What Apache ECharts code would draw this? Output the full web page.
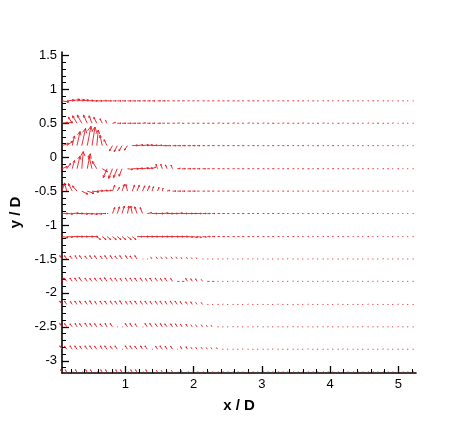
<!DOCTYPE html>
<html>
<head>
<meta charset="utf-8">
<script src="https://cdn.jsdelivr.net/npm/echarts@6/dist/echarts.min.js"></script>
<style>
  html, body { margin: 0; padding: 0; background: #fff; }
  #chart { width: 474px; height: 421px; }
</style>
</head>
<body>
<div id="chart"></div>
<script>
// grid columns (x / D) of the vector field
var xCols = [0.07,0.14,0.22,0.29,0.36,0.44,0.51,0.58,0.66,0.73,
  0.81,0.88,0.95,1.03,1.1,1.17,1.25,1.32,1.39,1.47,
  1.54,1.61,1.69,1.76,1.83,1.91,1.98,2.05,2.13,2.2,
  2.27,2.35,2.42,2.49,2.57,2.64,2.71,2.79,2.86,2.93,
  3.01,3.08,3.15,3.23,3.3,3.37,3.45,3.52,3.59,3.67,
  3.74,3.81,3.89,3.96,4.03,4.11,4.18,4.25,4.33,4.4,
  4.47,4.55,4.62,4.69,4.77,4.84,4.91,4.99,5.06,5.13,5.21];

// rows (y / D)
var rowY = [0.83, 0.5, 0.17, -0.17, -0.5, -0.83, -1.17, -1.5, -1.83, -2.17, -2.5, -2.83, -3.17];

// velocity components, one array per row
var u1 = [.9,1,1,1,.9,.8,.7,.7,.6,.6, .5,.5,.5,.5,.45,.45,.4,.4,.4,.4, .4,.35,.35,.35,.35,.3,.3,.3,.3,.3,
  .3,.3,.3,.3,.3,.3,.25,.3,.3,.25, .25,.25,.25,.25,.25,.25,.25,.25,.25,.2, .25,.2,.2,.25,.2,.2,.2,.25,.2,.2, .2,.2,.25,.2,.2,.2,.15,.2,.2,.15,.15];
var v1 = [-.15,.1,.2,.15,.1,.05,0,0,.02,0, 0,0,0,0,0,0,0,0,0,0, 0,0,0,0,0,0,0,0,0,0,
  0,0,0,0,0,0,0,0,0,0, 0,0,0,0,0,0,0,0,0,0, 0,0,0,0,0,0,0,0,0,0, 0,0,0,0,0,0,0,0,0,0,0];

var u2 = [.8,.8,-.5,-.6,-.6,-.5,-.4,-.4,-.3,-.2, .4,.5,.5,.5,.45,.45,.4,.4,.4,.4, .35,.35,.35,.35,.3,.3,.3,.3,.3,.3,
  .3,.3,.25,.3,.3,.25,.25,.3,.25,.25, .25,.25,.3,.25,.25,.3,.25,.25,.25,.25, .2,.25,.25,.2,.2,.25,.2,.2,.25,.2, .2,.2,.2,.25,.2,.2,.2,.15,.2,.15,.15];
var v2 = [.1,.15,.8,1,1.1,1.1,1,.8,.6,.4, .1,0,0,0,0,0,.05,0,0,0, 0,0,0,.05,0,0,0,0,0,0,
  0,.05,0,0,.05,0,0,.05,0,0, .05,0,0,0,.05,0,0,0,.05,0, 0,0,.05,0,0,0,.05,0,0,0, 0,.05,0,0,0,0,.05,0,0,0,0];

var u3 = [.9,.8,.3,.4,.5,.5,.4,.2,-.3,-.4, -.4,-.4,-.4,-.4,.7,.8,.8,.7,.7,.6, .6,.5,.5,.45,.45,.4,.4,.4,.35,.35,
  .35,.3,.3,.3,.3,.3,.3,.25,.3,.25, .25,.25,.25,.25,.25,.25,.2,.25,.25,.2, .2,.25,.2,.2,.25,.2,.2,.2,.2,.2, .2,.2,.2,.2,.15,.2,.2,.15,.2,.15,.15];
var v3 = [.3,.6,1.3,1.9,2.3,2.6,2.5,2.1,1.4,.8, -.7,-.8,-.7,-.6,.05,.1,.1,.1,.05,.05, 0,0,0,0,0,0,0,0,0,0,
  0,0,0,0,0,0,0,0,0,0, 0,0,0,0,0,0,0,0,0,0, 0,0,0,0,0,0,0,0,0,0, 0,0,0,0,0,0,0,0,0,0,0];

var u4 = [.7,.5,.3,.4,.2,.4,-.4,-.6,.7,-.5, -.5,-.5,-.4,.7,.8,.8,.8,.7,.5,-.2, -.2,-.2,-.2,.4,.45,.45,.4,.4,.4,.35,
  .35,.35,.3,.3,.3,.3,.3,.3,.25,.3, .25,.25,.3,.25,.25,.25,.25,.2,.25,.25, .2,.25,.2,.2,.25,.2,.2,.2,.25,.2, .2,.2,.2,.15,.2,.2,.15,.2,.15,.15,.15];
var v4 = [.3,.7,1.1,1.7,2.3,2,1.7,1,-.4,-1.2, -1.3,-1.2,-1,-.1,0,.05,.1,.1,.2,.6, .6,.5,.5,.05,0,0,0,0,0,0,
  0,0,0,0,0,0,0,0,0,0, 0,0,0,0,0,0,0,0,0,0, 0,0,0,0,0,0,0,0,0,0, 0,0,0,0,0,0,0,0,0,0,0];

var u5 = [.3,-.3,-.5,-.6,.8,.9,.9,.8,.7,.6, .3,.3,.3,-.2,.3,.3,.3,.3,.2,.2, .1,.4,.45,.45,.4,.4,.4,.35,.35,.35,
  .3,.3,.3,.3,.3,.25,.3,.25,.25,.25, .25,.25,.25,.2,.25,.25,.2,.25,.2,.2, .2,.2,.25,.2,.2,.2,.2,.2,.2,.2, .2,.15,.2,.2,.15,.2,.15,.15,.15,.15,.15];
var v5 = [1,1.1,1,.7,-.4,-.3,-.1,.05,.1,.1, .8,.5,.9,.9,.8,.8,.7,.7,.6,.5, .4,.1,0,0,0,0,0,0,0,0,
  0,0,0,0,0,0,0,0,0,0, 0,0,0,0,0,0,0,0,0,0, 0,0,0,0,0,0,0,0,0,0, 0,0,0,0,0,0,0,0,0,0,0];

var u6 = [.8,.8,.8,.8,.8,.7,.7,.7,.5,.15, .3,.3,.3,.2,-.2,-.3,-.3,.6,.7,.8, .8,.8,.7,.7,.7,.7,.6,.6,.5,.4,
  .4,.35,.35,.3,.3,.3,.3,.3,.25,.25, .25,.25,.25,.25,.25,.2,.25,.2,.2,.25, .2,.2,.2,.2,.2,.2,.2,.2,.2,.15, .2,.15,.2,.15,.15,.2,.15,.15,.15,.15,.15];
var v6 = [0,-.05,.05,0,-.05,-.05,-.1,-.05,0,0, .8,.9,1,1,1,.9,.8,.1,0,0, .05,0,0,.05,0,0,0,0,0,0,
  0,0,0,0,0,0,0,0,0,0, 0,0,0,0,0,0,0,0,0,0, 0,0,0,0,0,0,0,0,0,0, 0,0,0,0,0,0,0,0,0,0,0];

var u7 = [.8,.8,.8,.8,.8,.8,.8,.5,.5,.5, .5,.5,.5,.5,.5,.7,.8,.8,.8,.8, .8,.8,.8,.8,.8,.7,.7,.6,.5,.4,
  .4,.35,.35,.3,.3,.3,.3,.3,.25,.25, .25,.25,.25,.25,.2,.25,.25,.2,.2,.2, .2,.2,.2,.2,.2,.2,.2,.2,.15,.2, .15,.2,.15,.15,.15,.15,.15,.15,.15,.15,.15];
var v7 = [-.15,-.05,0,0,0,0,0,-.4,-.4,-.4, -.4,-.4,-.4,-.4,-.4,0,0,0,0,0, 0,0,0,0,0,-.05,-.1,-.1,-.05,0,
  0,0,0,0,0,0,0,0,0,0, 0,0,0,0,0,0,0,0,0,0, 0,0,0,0,0,0,0,0,0,0, 0,0,0,0,0,0,0,0,0,0,0];

var u8 = [-.3,-.3,-.3,-.25,-.3,-.3,-.3,-.3,-.25,-.3, -.3,-.3,-.3,-.25,-.3,-.3,.1,.1,-.2,-.2, -.2,-.2,-.2,-.2,-.15,-.15,-.15,-.15,.15,.15,
  .15,.15,.15,.15,.15,.15,.15,.15,.15,.15, .15,.15,.15,.15,.15,.15,.15,.15,.15,.15, .15,.15,.15,.15,.15,.15,.15,.15,.15,.15, .15,.15,.15,.15,.15,.15,.15,.15,.15,.15,.15];
var v8 = [.45,.45,.4,.45,.45,.4,.45,.45,.4,.45, .45,.4,.45,.45,.4,.45,0,0,.3,.3, .3,.3,.3,.3,.25,.25,.2,.2,0,0,
  0,0,0,.05,0,0,0,0,.05,0, 0,0,0,0,0,.05,0,0,0,0, .05,0,0,0,0,0,0,.05,0,0, 0,0,0,0,.05,0,0,0,0,0,0];

var u9 = [.25,-.3,-.3,-.3,-.35,-.3,-.3,-.3,-.3,-.35, -.3,-.3,-.25,-.3,-.3,-.3,-.3,-.25,-.3,-.3, -.25,-.3,-.25,.3,.3,-.25,-.2,-.2,-.2,.3,
  .3,.15,.15,.15,.15,.15,.15,.15,.15,.15, .15,.15,.15,.15,.15,.15,.15,.15,.15,.15, .15,.15,.15,.15,.15,.15,.15,.15,.15,.15, .15,.15,.15,.15,.15,.15,.15,.15,.15,.15,.15];
var v9 = [.45,.4,.45,.45,.5,.45,.4,.45,.45,.5, .45,.45,.4,.45,.45,.45,.45,.4,.45,.45, .4,.45,.4,0,0,.4,.35,.35,.3,0,
  0,0,0,0,.05,0,0,0,0,0, .05,0,0,0,0,0,.05,0,0,0, 0,0,.05,0,0,0,0,0,.05,0, 0,0,0,.05,0,0,0,0,0,0,0];

var u10 = [-.3,-.3,-.25,-.3,-.3,-.3,-.3,-.25,-.3,-.3, -.3,-.3,-.3,-.25,-.3,-.3,-.3,-.3,-.25,-.3, -.3,-.25,-.3,-.3,-.25,-.25,-.2,-.2,-.2,.15,
  .15,.15,.15,.15,.15,.15,.15,.15,.15,.15, .15,.15,.15,.15,.15,.15,.15,.15,.15,.15, .15,.15,.15,.15,.15,.15,.15,.15,.15,.15, .15,.15,.15,.15,.15,.15,.15,.15,.15,.15,.15];
var v10 = [.45,.45,.4,.45,.45,.45,.5,.4,.45,.45, .45,.45,.5,.4,.45,.45,.45,.45,.4,.45, .45,.4,.45,.45,.4,.35,.35,.3,.3,0,
  0,0,.05,0,0,0,0,.05,0,0, 0,0,0,.05,0,0,0,0,0,.05, 0,0,0,0,0,.05,0,0,0,0, 0,.05,0,0,0,0,0,.05,0,0,0];

var u11 = [-.3,-.3,-.3,-.25,-.3,-.3,-.3,-.3,-.3,-.25, -.3,.1,.1,-.3,-.3,-.25,.1,-.3,-.3,-.3, -.25,-.3,-.25,-.25,-.2,-.2,-.2,-.2,-.2,-.15,
  -.15,.15,.15,.15,.15,.15,.15,.15,.15,.15, .15,.15,.15,.15,.15,.15,.15,.15,.15,.15, .15,.15,.15,.15,.15,.15,.15,.15,.15,.15, .15,.15,.15,.15,.15,.15,.15,.15,.15,.15,.15];
var v11 = [.45,.45,.4,.45,.45,.5,.45,.45,.4,.45, .45,0,0,.45,.45,.4,0,.45,.45,.4, .45,.4,.4,.4,.35,.35,.3,.3,.3,.25,
  .25,0,0,0,.05,0,0,0,0,.05, 0,0,0,0,0,0,.05,0,0,0, 0,0,0,.05,0,0,0,0,0,0, .05,0,0,0,0,0,0,.05,0,0,0];

var u12 = [-.3,-.3,-.3,-.3,-.25,-.3,-.3,-.3,-.25,-.3, -.3,-.3,.1,-.3,-.3,-.3,-.25,-.3,.1,-.25, -.3,-.25,-.25,.1,-.2,-.2,-.2,-.2,-.2,-.15,
  -.15,-.15,.15,.15,.15,.15,.15,.15,.15,.15, .15,.15,.15,.15,.15,.15,.15,.15,.15,.15, .15,.15,.15,.15,.15,.15,.15,.15,.15,.15, .15,.15,.15,.15,.15,.15,.15,.15,.15,.15,.15];
var v12 = [.45,.4,.45,.45,.4,.45,.45,.4,.45,.45, .4,.45,0,.45,.45,.4,.45,.45,0,.4, .45,.4,.4,0,.35,.35,.3,.3,.3,.25,
  .25,.25,0,0,0,0,.05,0,0,0, 0,0,.05,0,0,0,0,0,0,.05, 0,0,0,0,0,0,.05,0,0,0, 0,0,0,0,.05,0,0,0,0,0,0];

var u13 = [-.2,-.2,.1,-.2,.1,-.2,-.2,.1,-.2,-.2, .1,-.2,-.2,.1,-.2,-.2,.1,-.2,.1,-.15, -.15,.1,-.15,.1,-.15,.15,.15,.15,.15,.15,
  .15,.15,.15,.15,.15,.15,.15,.15,.15,.15, .15,.15,.15,.15,.15,.15,.15,.15,.15,.15, .15,.15,.15,.15,.15,.15,.15,.15,.15,.15, .15,.15,.15,.15,.15,.15,.15,.15,.15,.15,.15];
var v13 = [.35,.35,.1,.35,.1,.35,.35,.1,.35,.35, .1,.35,.35,.1,.35,.35,.1,.35,.1,.3, .3,.1,.3,.1,.3,.1,.1,.1,.1,.1,
  .1,.1,.1,.1,.1,.1,.1,.1,.1,.1, .1,.1,.1,.1,.1,.1,.1,.1,.1,.1, .1,.1,.1,.1,.1,.1,.1,.1,.1,.1, .1,.1,.1,.1,.1,.1,.1,.1,.1,.1,.1];

var uRows = [u1, u2, u3, u4, u5, u6, u7, u8, u9, u10, u11, u12, u13];
var vRows = [v1, v2, v3, v4, v5, v6, v7, v8, v9, v10, v11, v12, v13];

// tick labels
var xTicks = [1, 2, 3, 4, 5];
var xMinor = [0.2,0.4,0.6,0.8,1.2,1.4,1.6,1.8,2.2,2.4,2.6,2.8,3.2,3.4,3.6,3.8,4.2,4.4,4.6,4.8,5.2];
var yTicks = [-3, -2.5, -2, -1.5, -1, -0.5, 0, 0.5, 1, 1.5];
var yMinor = [-3.1,-2.9,-2.8,-2.7,-2.6,-2.4,-2.3,-2.2,-2.1,-1.9,-1.8,-1.7,-1.6,-1.4,-1.3,-1.2,-1.1,
  -0.9,-0.8,-0.7,-0.6,-0.4,-0.3,-0.2,-0.1,0.1,0.2,0.3,0.4,0.6,0.7,0.8,0.9,1.1,1.2,1.3,1.4];

var vecScale = 0.11;   // data units per velocity unit
var red = '#e31b23';
var font = "'Liberation Sans', Arial, sans-serif";

var vectors = [];
for (var r = 0; r < rowY.length; r++) {
  for (var i = 0; i < xCols.length; i++) {
    vectors.push([xCols[i], rowY[r], uRows[r][i] || 0, vRows[r][i] || 0]);
  }
}

function renderArrow(params, api) {
  var x = api.value(0), y = api.value(1), u = api.value(2), v = api.value(3);
  var p0 = api.coord([x, y]);
  var p1 = api.coord([x + u * vecScale, y + v * vecScale]);
  var dx = p1[0] - p0[0], dy = p1[1] - p0[1];
  var len = Math.sqrt(dx * dx + dy * dy);
  var style = { stroke: red, lineWidth: 0.9, fill: null };
  var kids = [{ type: 'line', shape: { x1: p0[0], y1: p0[1], x2: p1[0], y2: p1[1] }, style: style }];
  if (len > 3) {
    var h = len * 0.28, a = Math.atan2(dy, dx), w = 0.45;
    kids.push({
      type: 'polyline',
      shape: { points: [
        [p1[0] - h * Math.cos(a - w), p1[1] - h * Math.sin(a - w)],
        [p1[0], p1[1]],
        [p1[0] - h * Math.cos(a + w), p1[1] - h * Math.sin(a + w)]
      ] },
      style: style
    });
  }
  return { type: 'group', children: kids };
}

var chart = echarts.init(document.getElementById('chart'));

var option = {
  backgroundColor: '#fff',
  animation: false,
  grid: { left: 62, right: 58, top: 52, bottom: 48 },
  xAxis: [
    {
      type: 'value', min: 0.07, max: 5.26, position: 'bottom',
      name: 'x / D', nameLocation: 'middle', nameGap: 25,
      nameTextStyle: { color: '#000', fontSize: 15, fontWeight: 'bold', fontFamily: font },
      axisLine: { show: true, onZero: false, lineStyle: { color: '#000', width: 1.6 } },
      axisTick: { show: true, inside: true, length: 7, customValues: xTicks, lineStyle: { color: '#000', width: 1.3 } },
      axisLabel: { customValues: xTicks, color: '#000', fontSize: 13, fontFamily: font, margin: 5 },
      splitLine: { show: false }
    },
    {
      type: 'value', min: 0.07, max: 5.26, position: 'bottom',
      axisLine: { show: false, onZero: false },
      axisTick: { show: true, inside: true, length: 4, customValues: xMinor, lineStyle: { color: '#000', width: 1 } },
      axisLabel: { show: false },
      splitLine: { show: false }
    }
  ],
  yAxis: [
    {
      type: 'value', min: -3.18, max: 1.55, position: 'left',
      name: 'y / D', nameLocation: 'middle', nameGap: 30,
      nameTextStyle: { color: '#000', fontSize: 15, fontWeight: 'bold', fontFamily: font },
      axisLine: { show: true, onZero: false, lineStyle: { color: '#000', width: 1.6 } },
      axisTick: { show: true, inside: true, length: 7, customValues: yTicks, lineStyle: { color: '#000', width: 1.3 } },
      axisLabel: { customValues: yTicks, color: '#000', fontSize: 13, fontFamily: font, margin: 5 },
      splitLine: { show: false }
    },
    {
      type: 'value', min: -3.18, max: 1.55, position: 'left',
      axisLine: { show: false, onZero: false },
      axisTick: { show: true, inside: true, length: 4, customValues: yMinor, lineStyle: { color: '#000', width: 1 } },
      axisLabel: { show: false },
      splitLine: { show: false }
    }
  ],
  series: [
    {
      type: 'custom',
      coordinateSystem: 'cartesian2d',
      xAxisIndex: 0,
      yAxisIndex: 0,
      clip: false,
      silent: true,
      renderItem: renderArrow,
      data: vectors
    }
  ]
};

chart.setOption(option);
</script>
</body>
</html>
